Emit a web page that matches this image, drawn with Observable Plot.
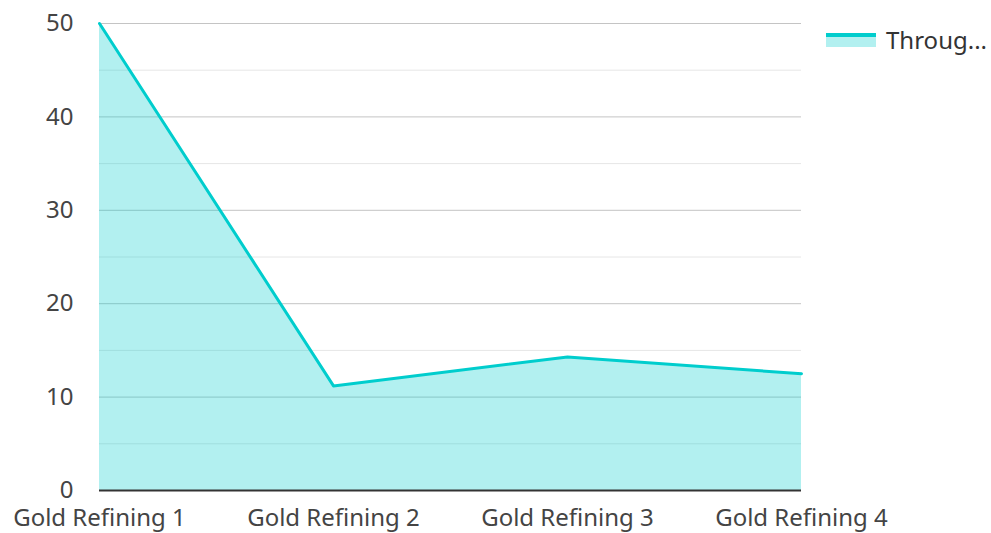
<!DOCTYPE html>
<html>
<head>
<meta charset="utf-8">
<script src="https://cdn.jsdelivr.net/npm/d3@7"></script>
<script src="https://cdn.jsdelivr.net/npm/@observablehq/plot@0.6"></script>
<style>
  html, body { margin: 0; padding: 0; background: #fff; }
  #wrap { position: relative; width: 991px; height: 533px; font-family: "Noto Sans", sans-serif; }
  #legend { position: absolute; left: 826px; top: 23px; display: flex; align-items: center; font-size: 24px; line-height: 33px; color: #333; }
  #legend .sw { width: 50px; height: 14px; position: relative; margin-right: 10px; background: rgba(0,205,205,0.3); }
  #legend .sw::before { content: ""; position: absolute; left: 0; top: 0; width: 50px; height: 4px; background: #00cdcd; }
  #chart svg text { font-size: 24px; }
</style>
</head>
<body>
<div id="wrap"><div id="chart"></div><div id="legend"><span class="sw"></span><span>Throug...</span></div></div>
<script>
const categories = ["Gold Refining 1", "Gold Refining 2", "Gold Refining 3", "Gold Refining 4"];
const values = [50, 11.2, 14.3, 12.5];
const seriesName = "Throughput";
const majorTicks = [0, 10, 20, 30, 40, 50];
const minorTicks = [5, 15, 25, 35, 45];

const data = categories.map((c, i) => ({category: c, value: values[i]}));

const chart = Plot.plot({
  width: 991,
  height: 533,
  marginLeft: 99,
  marginRight: 190,
  marginTop: 23,
  marginBottom: 43,
  style: {fontFamily: "Noto Sans, sans-serif", fontSize: "24px", color: "#444", background: "#fff"},
  x: {type: "point", domain: categories, padding: 0, label: null, tickSize: 0, tickPadding: 18},
  y: {domain: [0, 50], ticks: majorTicks, label: null, tickSize: 0, tickPadding: 26},
  marks: [
    Plot.ruleY(minorTicks, {stroke: "#e6e6e6", strokeWidth: 1}),
    Plot.ruleY(majorTicks.filter(d => d > 0), {stroke: "#c4c4c4", strokeWidth: 1}),
    Plot.areaY(data, {x: "category", y: "value", fill: "#00cdcd", fillOpacity: 0.3}),
    Plot.lineY(data, {x: "category", y: "value", stroke: "#00cdcd", strokeWidth: 3}),
    Plot.ruleY([0], {stroke: "#333", strokeWidth: 2})
  ]
});
document.getElementById("chart").appendChild(chart);
</script>
</body>
</html>
